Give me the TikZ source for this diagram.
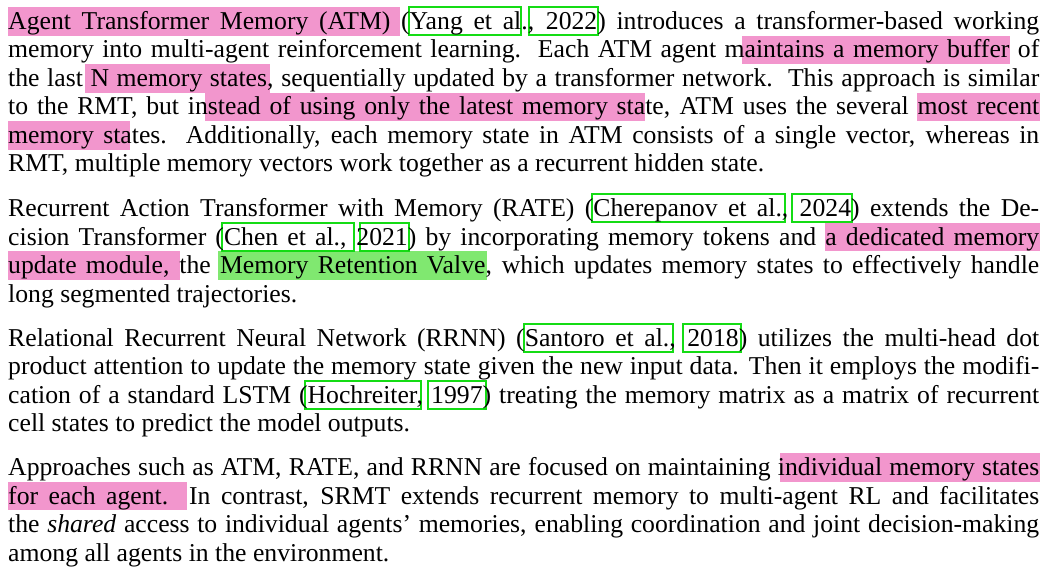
\documentclass[tikz,border=0pt]{standalone}
\usepackage{fontspec}
\setmainfont{Liberation Serif}
\definecolor{hlpink}{RGB}{242,150,205}
\definecolor{hlgreen}{RGB}{128,232,112}
\definecolor{boxgreen}{RGB}{20,220,20}
\begin{document}
\begin{tikzpicture}[x=1pt,y=-1pt,
  ln/.style={anchor=base west,inner sep=0pt,font=\rmfamily\fontsize{25.7}{28}\selectfont},
  pk/.style={fill=hlpink},
  gf/.style={fill=hlgreen},
  cb/.style={draw=boxgreen,line width=1.6pt}]
\useasboundingbox (0,0) rectangle (1056,568);
% highlights
\fill[pk] (8,7) rectangle (400,36);
\fill[pk] (742,36) rectangle (1010,64);
\fill[pk] (85,64) rectangle (270,93);
\fill[pk] (205,93) rectangle (645,121);
\fill[pk] (917,93) rectangle (1040,121);
\fill[pk] (8,121) rectangle (130,150);
\fill[pk] (825,223) rectangle (1040,251);
\fill[pk] (8,251) rectangle (180,280);
\fill[gf] (218,251) rectangle (487,280);
\fill[pk] (780,453) rectangle (1040,482);
\fill[pk] (8,482) rectangle (187,510);
% citation boxes
\draw[cb] (409,7) rectangle (521,35);
\draw[cb] (529,7) rectangle (598,35);
\draw[cb] (592,194) rectangle (785,222);
\draw[cb] (792,194) rectangle (852,222);
\draw[cb] (222,223) rectangle (354,251);
\draw[cb] (360,223) rectangle (409,251);
\draw[cb] (524,324) rectangle (673,352);
\draw[cb] (683,324) rectangle (741,352);
\draw[cb] (305,381) rectangle (421,409);
\draw[cb] (428,381) rectangle (486,409);
% text lines
\newcommand{\J}[1]{\makebox[1031pt][s]{#1}}
\node[ln] (l1) at (8,29) {\J{Agent Transformer Memory (ATM) (Yang et al., 2022) introduces a transformer-based working}};
\node[ln] (l2) at (8,57.5) {\J{memory into multi-agent reinforcement learning.\ \ Each ATM agent maintains a memory buffer of}};
\node[ln] (l3) at (8,86) {\J{the last N memory states, sequentially updated by a transformer network.\ \ This approach is similar}};
\node[ln] (l4) at (8,114.5) {\J{to the RMT, but instead of using only the latest memory state, ATM uses the several most recent}};
\node[ln] (l5) at (8,143) {\J{memory states.\ \ Additionally, each memory state in ATM consists of a single vector, whereas in}};
\node[ln] (l6) at (8,171.5) {RMT, multiple memory vectors work together as a recurrent hidden state.};
\node[ln] (m1) at (8,216) {\J{Recurrent Action Transformer with Memory (RATE) (Cherepanov et al., 2024) extends the De-}};
\node[ln] (m2) at (8,245) {\J{cision Transformer (Chen et al., 2021) by incorporating memory tokens and a dedicated memory}};
\node[ln] (m3) at (8,273) {\J{update module, the Memory Retention Valve, which updates memory states to effectively handle}};
\node[ln] (m4) at (8,302) {long segmented trajectories.};
\node[ln] (n1) at (8,346) {\J{Relational Recurrent Neural Network (RRNN) (Santoro et al., 2018) utilizes the multi-head dot}};
\node[ln] (n2) at (8,374) {\J{product attention to update the memory state given the new input data. Then it employs the modifi-}};
\node[ln] (n3) at (8,403) {\J{cation of a standard LSTM (Hochreiter, 1997) treating the memory matrix as a matrix of recurrent}};
\node[ln] (n4) at (8,431) {cell states to predict the model outputs.};
\node[ln] (o1) at (8,475) {\J{Approaches such as ATM, RATE, and RRNN are focused on maintaining individual memory states}};
\node[ln] (o2) at (8,504) {\J{for each agent.\ \ In contrast, SRMT extends recurrent memory to multi-agent RL and facilitates}};
\node[ln] (o3) at (8,532) {\J{the \textit{shared} access to individual agents' memories, enabling coordination and joint decision-making}};
\node[ln] (o4) at (8,561) {among all agents in the environment.};
\end{tikzpicture}
\end{document}
